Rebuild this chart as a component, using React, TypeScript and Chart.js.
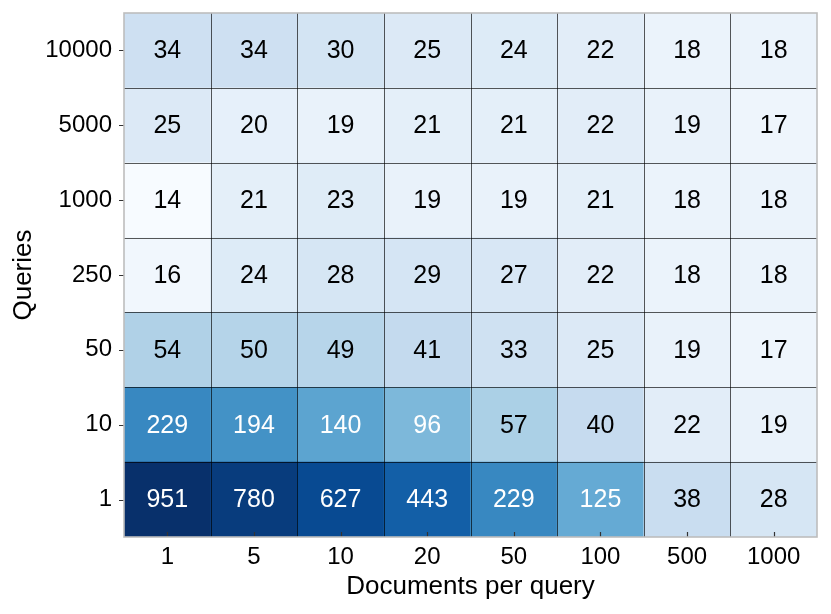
import React, { useEffect, useRef } from "react";
import { Chart, registerables } from "chart.js";

Chart.register(...registerables);

const docsPerQuery = ["1", "5", "10", "20", "50", "100", "500", "1000"];
const queryLabels = ["1", "10", "50", "250", "1000", "5000", "10000"];

const q1 = [951, 780, 627, 443, 229, 125, 38, 28];
const q10 = [229, 194, 140, 96, 57, 40, 22, 19];
const q50 = [54, 50, 49, 41, 33, 25, 19, 17];
const q250 = [16, 24, 28, 29, 27, 22, 18, 18];
const q1000 = [14, 21, 23, 19, 19, 21, 18, 18];
const q5000 = [25, 20, 19, 21, 21, 22, 19, 17];
const q10000 = [34, 34, 30, 25, 24, 22, 18, 18];

const rows = [q1, q10, q50, q250, q1000, q5000, q10000];

const BLUES = ["#f7fbff", "#deebf7", "#c6dbef", "#9ecae1", "#6baed6", "#4292c6", "#2171b5", "#08519c", "#08306b"];

function hexToRgb(h: string) {
  return [parseInt(h.slice(1, 3), 16), parseInt(h.slice(3, 5), 16), parseInt(h.slice(5, 7), 16)];
}

const allVals = rows.flat();
const vMin = Math.min(...allVals);
const vMax = Math.max(...allVals);

function norm(v: number) {
  return (Math.log(v) - Math.log(vMin)) / (Math.log(vMax) - Math.log(vMin));
}

function blues(t: number) {
  const x = Math.max(0, Math.min(1, t)) * (BLUES.length - 1);
  const i = Math.min(BLUES.length - 2, Math.floor(x));
  const f = x - i;
  const a = hexToRgb(BLUES[i]);
  const b = hexToRgb(BLUES[i + 1]);
  const c = a.map((v, k) => Math.round(v + (b[k] - v) * f));
  return `rgb(${c[0]},${c[1]},${c[2]})`;
}

const FONT = "'Liberation Sans', Arial, Helvetica, sans-serif";

export default function App() {
  const ref = useRef<HTMLCanvasElement | null>(null);

  useEffect(() => {
    document.body.style.margin = "0";
    const canvas = ref.current;
    if (!canvas) return;

    const overlay = {
      id: "heatOverlay",
      afterDatasetsDraw(chart: any) {
        const { ctx, chartArea, scales } = chart;
        const xs = scales.x;
        const ys = scales.y;
        ctx.save();
        // cell grid lines
        ctx.strokeStyle = "rgba(0,0,0,0.65)";
        ctx.lineWidth = 1;
        ctx.beginPath();
        for (let c = 1; c < docsPerQuery.length; c++) {
          const px = Math.round((xs.getPixelForValue(c - 1) + xs.getPixelForValue(c)) / 2) + 0.5;
          ctx.moveTo(px, chartArea.top);
          ctx.lineTo(px, chartArea.bottom);
        }
        for (let r = 1; r < queryLabels.length; r++) {
          const py = Math.round(ys.getPixelForValue(r - 0.5)) + 0.5;
          ctx.moveTo(chartArea.left, py);
          ctx.lineTo(chartArea.right, py);
        }
        ctx.stroke();
        // ticks
        ctx.strokeStyle = "#333";
        ctx.lineWidth = 1.2;
        ctx.beginPath();
        for (let c = 0; c < docsPerQuery.length; c++) {
          const px = Math.round(xs.getPixelForValue(c)) + 0.5;
          ctx.moveTo(px, chartArea.bottom);
          ctx.lineTo(px, chartArea.bottom - 5);
        }
        for (let r = 0; r < queryLabels.length; r++) {
          const py = Math.round(ys.getPixelForValue(r)) + 0.5;
          ctx.moveTo(chartArea.left, py);
          ctx.lineTo(chartArea.left - 5, py);
        }
        ctx.stroke();
        // frame
        ctx.strokeStyle = "#bdbdbd";
        ctx.lineWidth = 1.6;
        ctx.strokeRect(chartArea.left, chartArea.top, chartArea.right - chartArea.left, chartArea.bottom - chartArea.top);
        // labels
        ctx.font = `25px ${FONT}`;
        ctx.textAlign = "center";
        ctx.textBaseline = "middle";
        rows.forEach((vals, r) => {
          vals.forEach((v, c) => {
            ctx.fillStyle = norm(v) > 0.42 ? "#ffffff" : "#000000";
            ctx.fillText(String(v), xs.getPixelForValue(c), ys.getPixelForValue(r) + 1);
          });
        });
        ctx.restore();
      },
    };

    const datasets = rows.map((vals, r) => ({
      label: queryLabels[r],
      data: vals.map(() => [r - 0.5, r + 0.5]),
      backgroundColor: vals.map((v) => blues(norm(v))),
      borderWidth: 0,
      barPercentage: 1,
      categoryPercentage: 1,
      grouped: false,
    }));

    const chart = new Chart(canvas, {
      type: "bar",
      data: { labels: docsPerQuery, datasets: datasets as any },
      options: {
        animation: false,
        responsive: false,
        maintainAspectRatio: false,
        layout: { padding: { top: 13, right: 14, left: 0, bottom: 0 } },
        plugins: { legend: { display: false }, tooltip: { enabled: false } },
        scales: {
          x: {
            type: "category",
            grid: { display: false, drawTicks: false },
            border: { display: false },
            ticks: { color: "#000", font: { family: FONT, size: 24 }, padding: 6, maxRotation: 0 },
            title: {
              display: true,
              text: "Documents per query",
              color: "#000",
              font: { family: FONT, size: 26 },
              padding: { top: 0, bottom: 12 },
            },
            afterFit(s: any) {
              s.height = 77;
              s.paddingLeft = 0;
              s.paddingRight = 0;
            },
          },
          y: {
            type: "linear",
            min: -0.5,
            max: 6.5,
            grid: { display: false, drawTicks: false },
            border: { display: false },
            afterBuildTicks(s: any) {
              s.ticks = queryLabels.map((_, i) => ({ value: i }));
            },
            ticks: {
              color: "#000",
              font: { family: FONT, size: 24 },
              padding: 12,
              callback: (v: any) => queryLabels[Math.round(Number(v))] ?? "",
            },
            title: {
              display: true,
              text: "Queries",
              color: "#000",
              font: { family: FONT, size: 26 },
              padding: { top: 8, bottom: 0 },
            },
            afterFit(s: any) {
              s.width = 124;
              s.paddingTop = 0;
              s.paddingBottom = 0;
            },
          },
        },
      },
      plugins: [overlay],
    });

    return () => chart.destroy();
  }, []);

  return (
    <div style={{ width: 831, height: 614 }}>
      <canvas ref={ref} width={831} height={614} style={{ display: "block" }} />
    </div>
  );
}
